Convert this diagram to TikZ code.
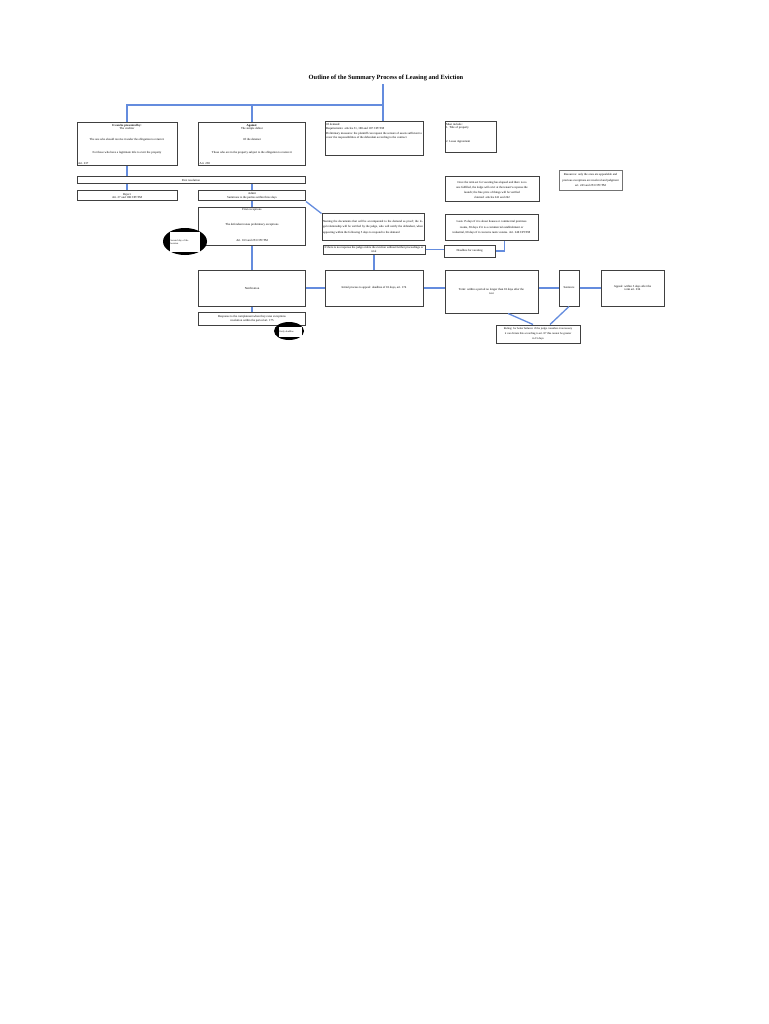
\documentclass[tikz,border=0pt]{standalone}
\usepackage{fontspec}
\setmainfont{Liberation Serif}
\usetikzlibrary{positioning}
\usetikzlibrary{shapes.geometric}
\definecolor{linkblue}{RGB}{100,140,222}
\tikzset{
    link/.style = {draw=linkblue,line width=1.3pt},
    stage/.style = {draw=black!75,line width=1pt,fill=white,inner sep=1pt,font=\fontsize{3}{3.8}\selectfont},
    note/.style = {inner sep=1.4pt,font=\fontsize{3}{3.8}\selectfont},
    blob/.style = {ellipse,fill=black,inner sep=0},
    tag/.style = {fill=white,inner sep=0.5pt,font=\fontsize{2.4}{3}\selectfont,align=left}
}
\newcommand\boxtext[4][c]{\parbox[c][#3][#1]{#2}{#4}}

\begin{document}
\begin{tikzpicture}[x=1pt,y=-1pt]
        \useasboundingbox (0,0) rectangle (768,1024);
        % Title
        \node[font=\bfseries\fontsize{6.4}{7}\selectfont] (title) at (386,78)
            {Outline of the Summary Process of Leasing and Eviction};
        \coordinate (hub) at (383,105);
        % Who and what
        \node[stage] (creditor) at (127,144.5) {\boxtext[t]{98pt}{41pt}{\centering
            \textbf{It can be presented by:}\\ The creditor\\[7pt]
            The one who should receive it under the obligation to return it\\[9pt]
            For those who have a legitimate title to evict the property\par}};
        \node[note,anchor=south west] (creditorart) at (creditor.south west) {Art. 237};
        \node[stage] (debtor) at (252,144.5) {\boxtext[t]{105pt}{41pt}{\centering
            \textbf{Against:}\\ The simple debtor\\[7pt]
            Of the detainer\\[9pt]
            Those who are in the property subject to the obligation to restore it\par}};
        \node[note,anchor=south west] (debtorart) at (debtor.south west) {Art. 238};
        \node[stage] (demand) at (374,139) {\boxtext[t]{96pt}{32pt}{\fontsize{3}{4.6}\selectfont
            Of demand:\\ Requirements: articles 31, 100 and 107 CPCTM\\
            Preliminary measures: the plaintiff can request the seizure of assets
            sufficient to cover the responsibilities of the defendant according to
            the contract\par}};
        \node[stage] (include) at (470.5,137.5) {\boxtext[t]{49pt}{29pt}{
            Must include:\\ 1. Title of property\\[10pt] 2. Lease Agreement\par}};
        % First resolution
        \node[stage] (resbar) at (191,180.5) {\boxtext{226pt}{5pt}{\centering First resolution\par}};
        \node[stage] (reject) at (127,196) {\boxtext{98pt}{8pt}{\centering
            Reject\\ Art. 27 and 100 CPCTM\par}};
        \node[stage] (admit) at (252,196) {\boxtext{105pt}{8pt}{\centering
            Admit\\ Summons to the parties within three days\par}};
        \node[stage] (firstexc) at (252,226.5) {\boxtext[t]{105pt}{35pt}{\centering
            First exceptions\\[11pt] The defendant raises preliminary exceptions\\[12pt]
            Art. 163 and 253 CPCTM\par}};
        \node[blob,minimum width=44pt,minimum height=27pt] (seconddayblob) at (185,241.5) {};
        \node[tag,text width=29pt,minimum height=20pt] (secondday) at (185,242)
            {Second day of the\\ location};
        % Answer to the demand
        \node[stage] (naming) at (373,227) {\boxtext{100pt}{24pt}{\fontsize{3}{5.4}\selectfont
            Naming the documents that will be accompanied to the demand as proof; the
            legal relationship will be verified by the judge, who will notify the
            defendant, when appearing within the following 5 days to respond to the demand\par}};
        \node[stage] (noreply) at (374,249.5) {\boxtext{100pt}{7pt}{\centering
            If there is no response the judge orders the eviction without further proceedings or\\ trial\par}};
        % Vacating
        \node[stage] (vacate) at (492,189.5) {\boxtext{92pt}{23pt}{\fontsize{3}{5}\selectfont\centering
            Once the term set for vacating has elapsed and there is no\\
            one fulfilled, the lodge will evict at the tenant's expense the\\
            launch; the fine price of things will be verified\\
            claimed: articles 241 and 242\par}};
        \node[stage,draw=black!55,line width=0.7pt] (resources) at (590.5,180) {\boxtext{61pt}{18pt}{\fontsize{3}{5.5}\selectfont\centering
            Resources: only the ones are appealable and\\
            previous exceptions are resolved and judgment\\
            art. 243 and 253 CPCTM\par}};
        \node[stage] (lasts) at (491.5,227.5) {\boxtext{91pt}{23pt}{\fontsize{3}{5.5}\selectfont\centering
            Lasts 15 days if it is about houses or commercial premises\\
            rooms, 30 days if it is a commercial establishment or\\
            industrial, 60 days if it concerns rustic estates. Art. 240 CPCTM\par}};
        \node[stage] (deadline) at (469.5,251) {\boxtext{49pt}{10pt}{\centering Deadline for vacating\par}};
        % Trial
        \node[stage] (notif) at (252,288) {\boxtext{105pt}{34pt}{\centering Notification\par}};
        \node[stage] (response) at (252,318.5) {\boxtext{105pt}{11pt}{\centering
            Response to the complainant when they raise exceptions\\
            resolution within the period art. 175\par}};
        \node[blob,minimum width=30pt,minimum height=18pt] (earlyblob) at (289,331) {};
        \node[tag,text width=22pt,minimum height=10pt] (early) at (290.5,332) {Early deadline};
        \node[stage] (initial) at (374,288) {\boxtext{96pt}{34pt}{\centering
            Initial process to appeal: deadline of 10 days, art. 174\par}};
        \node[stage] (term) at (491.5,291.5) {\boxtext{91pt}{41pt}{\centering
            Term: within a period no longer than 10 days after the\\ test\par}};
        \node[stage] (sentence) at (569,288) {\boxtext{18pt}{34pt}{\centering Sentence\par}};
        \node[stage] (appeal) at (632.5,288) {\boxtext{61pt}{34pt}{\centering
            Appeal: within 3 days after the\\ term art. 234\par}};
        \node[stage] (ruling) at (538,334) {\boxtext{82pt}{16pt}{\fontsize{2.8}{5}\selectfont\centering
            Ruling: for better failures: if the judge considers it necessary\\
            it can dictate this according to art. 87 this cannot be greater\\
            in 15 days\par}};
        % Links
        \draw[link] (title.south -| hub) -- (hub |- demand.north);
        \draw[link] (hub) -| (creditor);
        \draw[link] (hub) -| (debtor);
        \draw[link] (creditor) -- (creditor |- resbar.north);
        \draw[link] (reject |- resbar.south) -- (reject);
        \draw[link] (admit |- resbar.south) -- (admit);
        \draw[link] (admit.south east) -- (naming.north west);
        \draw[link] (noreply.east) -- (noreply.east -| deadline.west);
        \draw[link] (deadline.east) -| ([xshift=13pt]lasts.south);
        \draw[link] (initial.east) -- (initial.east -| term.west);
        \draw[link] (sentence.west -| term.east) -- (sentence.west);
        \draw[link] ([xshift=16.5pt]term.south) -- ([xshift=-5pt]ruling.north);
        \draw[link] (sentence.south) -- ([xshift=12pt]ruling.north);
        \foreach \src/\dest in {admit/firstexc,firstexc/notif,notif/response,noreply/initial,notif/initial,sentence/appeal}
            \draw[link] (\src) -- (\dest);
\end{tikzpicture}
\end{document}
